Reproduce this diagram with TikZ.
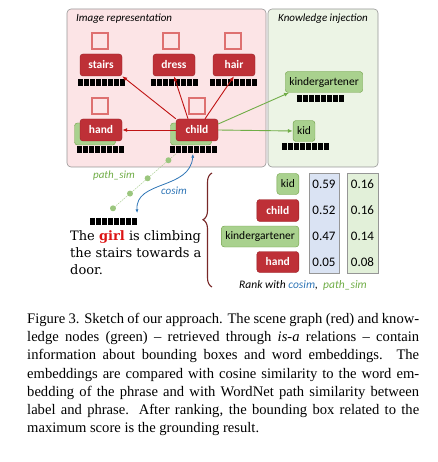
\documentclass[tikz,border=0pt]{standalone}
\usepackage{fontspec}
\setmainfont{Liberation Serif}
\newfontfamily\carlito{Carlito}
\newfontfamily\slabfont{DejaVu Serif}
\usetikzlibrary{calc,arrows.meta,decorations.pathreplacing}

\definecolor{redfill}{RGB}{190,48,55}
\definecolor{redline}{RGB}{150,30,35}
\definecolor{boxred}{RGB}{222,112,112}
\definecolor{arrowred}{RGB}{192,20,20}
\definecolor{greenfill}{RGB}{169,209,142}
\definecolor{greenline}{RGB}{112,160,70}
\definecolor{arrowgreen}{RGB}{112,173,71}
\definecolor{pinkpanel}{RGB}{252,228,230}
\definecolor{greenpanel}{RGB}{236,244,229}
\definecolor{panelgray}{RGB}{150,150,150}
\definecolor{cosblue}{RGB}{46,117,182}
\definecolor{simgreen}{RGB}{112,173,71}
\definecolor{bracered}{RGB}{120,40,40}
\definecolor{bluecol}{RGB}{218,227,243}
\definecolor{greencol}{RGB}{226,240,217}
\definecolor{girlred}{RGB}{220,20,20}

\begin{document}
\begin{tikzpicture}[x=1pt,y=-1pt,
  every node/.style={inner sep=0pt},
  panel/.style={draw=panelgray,rounded corners=4pt,line width=0.6pt},
  redlabel/.style={draw=redline,fill=redfill,rounded corners=3pt,text=white,
    font=\carlito\bfseries\fontsize{11.5}{12}\selectfont,minimum width=42pt,minimum height=22pt},
  greenlabel/.style={draw=greenline,fill=greenfill,rounded corners=3pt,
    font=\carlito\fontsize{11.5}{12}\selectfont,minimum height=21pt,inner xsep=4pt},
  gshadow/.style={draw=greenline,fill=greenfill,rounded corners=3pt,minimum width=41pt,minimum height=22pt},
  bbox/.style={draw=boxred,line width=1.8pt,minimum size=16pt},
  embbar/.style={minimum width=48pt,minimum height=7pt,path picture={
    \foreach \i in {0,...,7}
      \fill[black] ([xshift=\i*6pt+0.5pt]path picture bounding box.south west) rectangle ++(5pt,7pt);}},
  redarrow/.style={draw=arrowred,line width=0.9pt,-{Latex[length=5pt,width=4pt]}},
  greenarrow/.style={draw=arrowgreen,line width=0.9pt,-{Latex[length=5pt,width=4pt]}},
  score/.style={font=\carlito\fontsize{13}{14}\selectfont},
  title/.style={font=\carlito\itshape\fontsize{11}{12}\selectfont}]
\useasboundingbox (0,0) rectangle (437,462);

% panels
\draw[panel,fill=pinkpanel] (67,9) rectangle (266,167);
\draw[panel,fill=greenpanel] (268,9) rectangle (378,167);
\node[title,anchor=west] (imgtitle) at (76,19) {Image representation};
\node[title] (kgtitle) at (323,19) {Knowledge injection};

% bounding boxes
\node[bbox] (box-stairs) at (100,41) {};
\node[bbox] (box-dress) at (171,41) {};
\node[bbox] (box-hair) at (233,41) {};
\node[bbox] (box-hand) at (100,106) {};
\node[bbox] (box-child) at (197,106) {};

% scene graph
\node[gshadow] (hand-g) at (95,134) {};
\node[gshadow] (child-g) at (191,134) {};
\node[redlabel] (stairs) at (101,65) {stairs};
\node[redlabel] (dress) at (174,65) {dress};
\node[redlabel] (hair) at (234,65) {hair};
\node[redlabel] (hand) at (101,130) {hand};
\node[redlabel] (child) at (197,130) {child};

% knowledge nodes
\node[greenlabel] (kg) at (324,82) {kindergartener};
\node[greenlabel] (kid) at (304,131) {kid};

% word embeddings
\node[embbar] (emb-stairs) at (101,82.5) {};
\node[embbar] (emb-dress) at (174,82.5) {};
\node[embbar] (emb-hair) at (233,82.5) {};
\node[embbar] (emb-hand) at (100,150) {};
\node[embbar] (emb-child) at (193,150) {};
\node[embbar] (emb-kg) at (320,99) {};
\node[embbar] (emb-kid) at (305,147) {};
\node[embbar] (emb-phrase) at (113,221) {};

% relations
\draw[redarrow] (child.north west) -- (stairs.south east);
\draw[redarrow] ([xshift=-9pt]child.north) -- (dress.south);
\draw[redarrow] ([xshift=8pt]child.north) -- (hair.south);
\draw[redarrow] (child.west) -- (hand.east);
\draw[greenarrow] ([yshift=6pt]child.east) -- ([xshift=4pt]kg.south west);
\draw[greenarrow] (child.east) -- (kid.west);

% similarities
\draw[simgreen!60,line width=0.5pt,dash pattern=on 1.5pt off 1pt]
  ([xshift=-17pt]emb-child.south) -- ([yshift=9pt]emb-phrase.north)
  \foreach \p in {0.12,0.45,0.73,1} {node[pos=\p,circle,fill=simgreen!70,minimum size=6pt] {}};
\node[font=\carlito\itshape\fontsize{11}{12}\selectfont,text=simgreen] (simlabel) at (114,176) {path\_sim};
\draw[cosblue,line width=0.8pt,{Latex[length=4pt,width=3pt]}-{Latex[length=4pt,width=3pt]}]
  (emb-child.south) .. controls (190,190) and (135,180) .. ([yshift=4pt]emb-phrase.north east);
\node[font=\carlito\itshape\fontsize{11}{12}\selectfont,text=cosblue] (coslabel) at (174,191) {cosim};

% phrase
\node[anchor=north west,align=left,font=\slabfont\fontsize{13}{17}\selectfont] (phrase) at (70,230)
  {The \textcolor{girlred}{\bfseries girl} is climbing\\the stairs towards a\\door.};
\draw[bracered,line width=1.1pt,decorate,decoration={brace,amplitude=9pt,aspect=0.59}]
  (212,287) -- (212,173);

% ranking
\node[greenlabel,anchor=east] (rk-kid) at (299,184) {kid};
\node[redlabel,anchor=east] (rk-child) at (299,210.5) {child};
\node[greenlabel,anchor=east] (rk-kg) at (299,236.5) {kindergartener};
\node[redlabel,anchor=east,minimum height=21pt] (rk-hand) at (299,262) {hand};
\node[draw=panelgray,fill=bluecol,minimum width=30pt,minimum height=100pt] (col-cos) at (324,223) {};
\node[draw=panelgray,fill=greencol,minimum width=31pt,minimum height=100pt] (col-sim) at (362.5,223) {};
\foreach \y/\c/\s [count=\n] in {184/0.59/0.16,210.5/0.52/0.16,236.5/0.47/0.14,262/0.05/0.08} {
  \node[score] (cos-\n) at (324,\y) {\c};
  \node[score] (sim-\n) at (362.5,\y) {\s};
}
\node[font=\carlito\itshape\fontsize{11.5}{12}\selectfont] (ranklabel) at (303,285)
  {Rank with \textcolor{cosblue}{cosim},\ \ \textcolor{simgreen}{path\_sim}};

% caption
\node[anchor=north west,text width=392pt,align=justify,font=\fontsize{14.6}{18.2}\selectfont] (caption) at (27,313)
  {Figure 3. Sketch of our approach. The scene graph (red) and know-\linebreak
  ledge nodes (green) -- retrieved through \textit{is-a} relations -- contain\linebreak
  information about bounding boxes and word embeddings. The\linebreak
  embeddings are compared with cosine similarity to the word em-\linebreak
  bedding of the phrase and with WordNet path similarity between\linebreak
  label and phrase. After ranking, the bounding box related to the\linebreak
  maximum score is the grounding result.};
\end{tikzpicture}
\end{document}
